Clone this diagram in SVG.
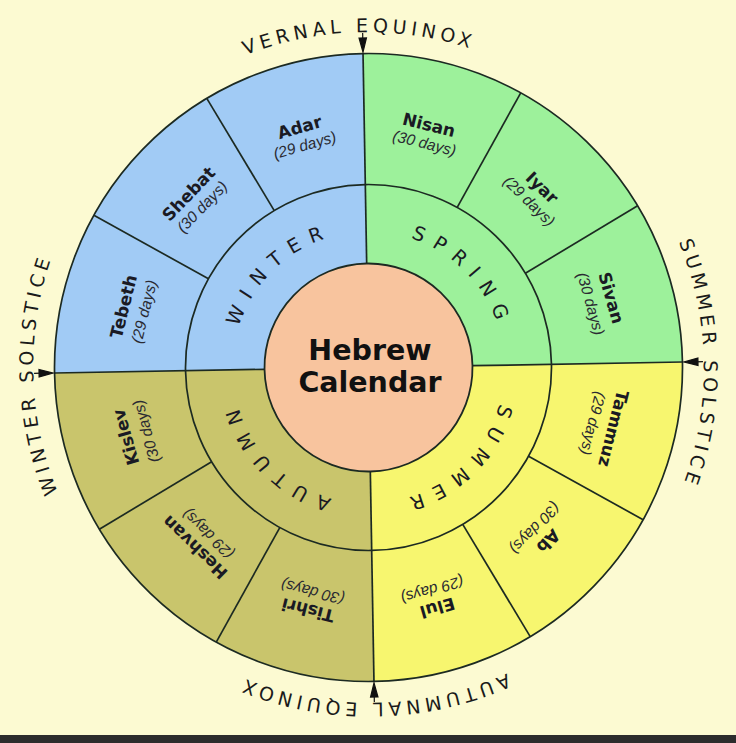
<svg xmlns="http://www.w3.org/2000/svg" width="736" height="743" viewBox="0 0 736 743">
<style>
.ln{stroke:#1c2a22;stroke-width:1.7;fill:none}
.m{font-family:"DejaVu Sans",Verdana,sans-serif;font-weight:bold;font-size:17px;fill:#1a1a24;text-anchor:middle}
.d{font-family:"Liberation Sans",Arial,sans-serif;font-style:italic;font-size:15.5px;fill:#2a2a32;text-anchor:middle}
.s{font-family:"DejaVu Sans",Verdana,sans-serif;font-size:19.5px;letter-spacing:10px;fill:#1a1a24;text-anchor:middle}
.o{font-family:"DejaVu Sans",Verdana,sans-serif;font-size:19px;letter-spacing:4.5px;fill:#1a1a1a;text-anchor:middle}
.c{font-family:"DejaVu Sans",Verdana,sans-serif;font-weight:bold;font-size:28.5px;fill:#111;text-anchor:middle}
.ar{fill:#111;stroke:#111;stroke-width:1.2}
</style>
<defs>
<path id="sp" d="M368.5 231.5 A136 136 0 1 1 368.5 503.5 A136 136 0 1 1 368.5 231.5"/>
<path id="op" d="M604.67 131.33 A334 334 0 1 1 132.33 603.67 A334 334 0 1 1 604.67 131.33"/>
<g id="arrow"><path class="ar" d="M368.5 33 L368.5 40"/><path class="ar" d="M364.8 38 L372.2 38 L368.5 52 Z"/></g>
</defs>
<rect width="736" height="743" fill="#fcfad2"/>
<rect x="0" y="735" width="736" height="8" fill="#2c2c2c"/>
<g transform="rotate(-1 368.5 367.5)">
<g id="winter"><path d="M368.5 367.5 L54.5 367.5 A314 314 0 0 1 368.5 53.5 Z" fill="#a1cbf5"/></g>
<g id="spring"><path d="M368.5 367.5 L368.5 53.5 A314 314 0 0 1 682.5 367.5 Z" fill="#9df19b"/></g>
<g id="summer"><path d="M368.5 367.5 L682.5 367.5 A314 314 0 0 1 368.5 681.5 Z" fill="#f7f66f"/></g>
<g id="autumn"><path d="M368.5 367.5 L368.5 681.5 A314 314 0 0 1 54.5 367.5 Z" fill="#c9c56c"/></g>
<g id="connectors">
<circle class="ln" cx="368.5" cy="367.5" r="314"/>
<circle class="ln" cx="368.5" cy="367.5" r="183"/>
<line class="ln" x1="368.5" y1="263.5" x2="368.5" y2="53.5"/>
<line class="ln" x1="472.5" y1="367.5" x2="682.5" y2="367.5"/>
<line class="ln" x1="368.5" y1="471.5" x2="368.5" y2="681.5"/>
<line class="ln" x1="264.5" y1="367.5" x2="54.5" y2="367.5"/>
<line class="ln" x1="460" y1="209.02" x2="525.5" y2="95.57"/>
<line class="ln" x1="526.98" y1="276" x2="640.43" y2="210.5"/>
<line class="ln" x1="526.98" y1="459" x2="640.43" y2="524.5"/>
<line class="ln" x1="460" y1="525.98" x2="525.5" y2="639.43"/>
<line class="ln" x1="277" y1="525.98" x2="211.5" y2="639.43"/>
<line class="ln" x1="210.02" y1="459" x2="96.57" y2="524.5"/>
<line class="ln" x1="210.02" y1="276" x2="96.57" y2="210.5"/>
<line class="ln" x1="277" y1="209.02" x2="211.5" y2="95.57"/>
<use href="#arrow"/>
<use href="#arrow" transform="rotate(90 368.5 367.5)"/>
<use href="#arrow" transform="rotate(180 368.5 367.5)"/>
<use href="#arrow" transform="rotate(270 368.5 367.5)"/>
</g>
<g id="center"><circle cx="368.5" cy="367.5" r="104" fill="#f8c49e" stroke="#1c2a22" stroke-width="1.8"/></g>
<g id="nisan" transform="rotate(15 368.5 367.5)"><text class="m" x="368.5" y="123.5">Nisan</text><text class="d" x="368.5" y="141.5">(30 days)</text></g>
<g id="iyar" transform="rotate(45 368.5 367.5)"><text class="m" x="368.5" y="123.5">Iyar</text><text class="d" x="368.5" y="141.5">(29 days)</text></g>
<g id="sivan" transform="rotate(75 368.5 367.5)"><text class="m" x="368.5" y="121">Sivan</text><text class="d" x="368.5" y="141.5">(30 days)</text></g>
<g id="tammuz" transform="rotate(105 368.5 367.5)"><text class="m" x="368.5" y="121">Tammuz</text><text class="d" x="368.5" y="141.5">(29 days)</text></g>
<g id="ab" transform="rotate(135 368.5 367.5)"><text class="m" x="368.5" y="123.5">Ab</text><text class="d" x="368.5" y="141.5">(30 days)</text></g>
<g id="elul" transform="rotate(165 368.5 367.5)"><text class="m" x="368.5" y="123.5">Elul</text><text class="d" x="368.5" y="141.5">(29 days)</text></g>
<g id="tishri" transform="rotate(195 368.5 367.5)"><text class="m" x="368.5" y="123.5">Tishri</text><text class="d" x="368.5" y="141.5">(30 days)</text></g>
<g id="heshvan" transform="rotate(225 368.5 367.5)"><text class="m" x="368.5" y="123.5">Heshvan</text><text class="d" x="368.5" y="141.5">(29 days)</text></g>
<g id="kislev" transform="rotate(255 368.5 367.5)"><text class="m" x="368.5" y="121">Kislev</text><text class="d" x="368.5" y="141.5">(30 days)</text></g>
<g id="tebeth" transform="rotate(285 368.5 367.5)"><text class="m" x="368.5" y="121">Tebeth</text><text class="d" x="368.5" y="141.5">(29 days)</text></g>
<g id="shebat" transform="rotate(315 368.5 367.5)"><text class="m" x="368.5" y="123.5">Shebat</text><text class="d" x="368.5" y="141.5">(30 days)</text></g>
<g id="adar" transform="rotate(345 368.5 367.5)"><text class="m" x="368.5" y="123.5">Adar</text><text class="d" x="368.5" y="141.5">(29 days)</text></g>
<g id="seasons">
<text class="s"><textPath href="#sp" startOffset="111.8">SPRING</textPath></text>
<text class="s"><textPath href="#sp" startOffset="325.4">SUMMER</textPath></text>
<text class="s"><textPath href="#sp" startOffset="539.1">AUTUMN</textPath></text>
<text class="s"><textPath href="#sp" startOffset="752.7">WINTER</textPath></text>
</g>
<g id="markers">
<text class="o"><textPath href="#op" startOffset="264.6">SUMMER SOLSTICE</textPath></text>
<text class="o"><textPath href="#op" startOffset="789.3">AUTUMNAL EQUINOX</textPath></text>
<text class="o"><textPath href="#op" startOffset="1313.9">WINTER SOLSTICE</textPath></text>
<text class="o"><textPath href="#op" startOffset="1838.6">VERNAL EQUINOX</textPath></text>
</g>
</g>
<g id="title"><text class="c" x="370" y="360">Hebrew</text><text class="c" x="370" y="392">Calendar</text></g>
</svg>
